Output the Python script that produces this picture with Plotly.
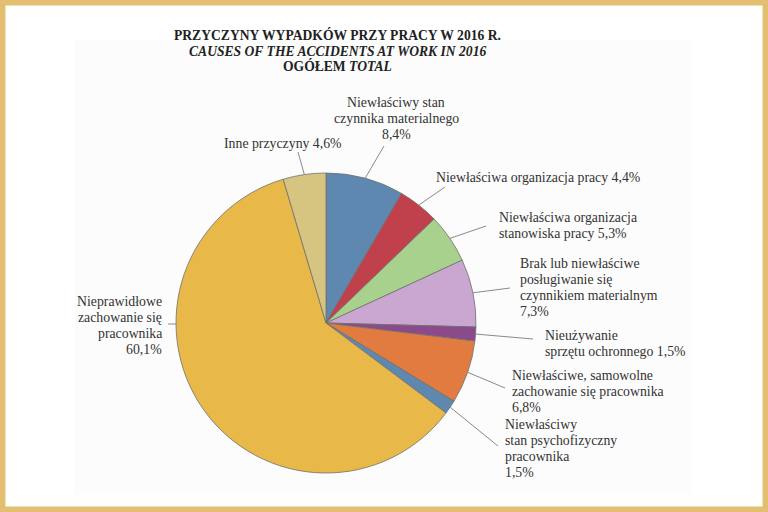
import math
import plotly.graph_objects as go

# ---- data ----
labels = [
    "Niewłaściwy stan czynnika materialnego",
    "Niewłaściwa organizacja pracy",
    "Niewłaściwa organizacja stanowiska pracy",
    "Brak lub niewłaściwe posługiwanie się czynnikiem materialnym",
    "Nieużywanie sprzętu ochronnego",
    "Niewłaściwe, samowolne zachowanie się pracownika",
    "Niewłaściwy stan psychofizyczny pracownika",
    "Nieprawidłowe zachowanie się pracownika",
    "Inne przyczyny",
]
values = [8.4, 4.4, 5.3, 7.3, 1.5, 6.8, 1.5, 60.1, 4.6]
label_lines = [
    ["Niewłaściwy stan", "czynnika materialnego", "8,4%"],
    ["Niewłaściwa organizacja pracy 4,4%"],
    ["Niewłaściwa organizacja", "stanowiska pracy 5,3%"],
    ["Brak lub niewłaściwe", "posługiwanie się", "czynnikiem materialnym", "7,3%"],
    ["Nieużywanie", "sprzętu ochronnego 1,5%"],
    ["Niewłaściwe, samowolne", "zachowanie się pracownika", "6,8%"],
    ["Niewłaściwy", "stan psychofizyczny", "pracownika", "1,5%"],
    ["Nieprawidłowe", "zachowanie się", "pracownika", "60,1%"],
    ["Inne przyczyny 4,6%"],
]
title_lines = [
    "<b>PRZYCZYNY WYPADKÓW PRZY PRACY W 2016 R.</b>",
    "<b><i>CAUSES OF THE ACCIDENTS AT WORK IN 2016</i></b>",
    "<b>OGÓŁEM <i>TOTAL</i></b>",
]
colors = ["#5E88AF", "#C0414B", "#A9D18E", "#C9A7D1", "#8B4A8A",
          "#E27B3F", "#5E88AF", "#E8B949", "#D5C581"]

# ---- layout (pixels) ----
W, H = 768, 512
CX, CY, R = 326, 323, 150
LINE_H = 16
# label anchor x, first-line y, xanchor, leader end point
label_pos = [
    (396, 102, "center", (384, 146)),
    (434, 177, "left", (445, 187)),
    (497, 217, "left", (486, 226)),
    (518, 263, "left", (510, 288)),
    (543, 335, "left", (533, 339)),
    (510, 375, "left", (505, 388)),
    (503, 424, "left", (498, 446)),
    (164, 301, "right", (168, 324)),
    (222, 143, "left", (298, 152)),
]

def px(x):
    return x / W

def py(y):
    return 1 - y / H

fig = go.Figure()
fig.add_trace(go.Pie(
    labels=labels, values=values, sort=False, direction="clockwise",
    rotation=0, textinfo="none", hoverinfo="skip", showlegend=False,
    marker=dict(colors=colors, line=dict(color="#707070", width=0.8)),
    domain=dict(x=[px(CX - R), px(CX + R)], y=[py(CY + R), py(CY - R)]),
))

shapes = []
annotations = []
total = sum(values)
cum = 0.0
for i, v in enumerate(values):
    mid = (cum + v / 2) / total * 2 * math.pi
    cum += v
    sx = CX + R * math.sin(mid)
    sy = CY - R * math.cos(mid)
    lx, ly, xa, (ex, ey) = label_pos[i]
    if i == 7:
        sx, sy = CX - R, 324
    shapes.append(dict(type="line", xref="paper", yref="paper",
                       x0=px(sx), y0=py(sy), x1=px(ex), y1=py(ey),
                       line=dict(color="#8a8a8a", width=1)))
    for k, line in enumerate(label_lines[i]):
        annotations.append(dict(x=px(lx), y=py(ly + k * LINE_H), xref="paper", yref="paper",
                                text=line, showarrow=False,
                                xanchor=xa, yanchor="middle", align=xa,
                                font=dict(family="Liberation Serif", size=13.8, color="#333333")))

# title
for k, (t, ty) in enumerate(zip(title_lines, [35, 51, 66])):
    annotations.append(dict(
        x=px(337), y=py(ty), xref="paper", yref="paper", showarrow=False,
        xanchor="center", yanchor="middle", text=t,
        font=dict(family="Liberation Serif", size=13.6, color="#222222")))

# faint chart panel and gold frame
shapes.insert(0, dict(type="rect", xref="paper", yref="paper", layer="below",
                      x0=px(75), x1=px(692), y0=py(495), y1=py(40),
                      fillcolor="#fcfcfc", line=dict(width=0)))
shapes.append(dict(type="rect", xref="paper", yref="paper",
                   x0=0, x1=1, y0=0, y1=1,
                   line=dict(color="#E3BF72", width=11)))

fig.update_layout(
    width=W, height=H, margin=dict(l=0, r=0, t=0, b=0),
    paper_bgcolor="white", plot_bgcolor="white",
    shapes=shapes, annotations=annotations,
)
fig.write_html("out.html")
